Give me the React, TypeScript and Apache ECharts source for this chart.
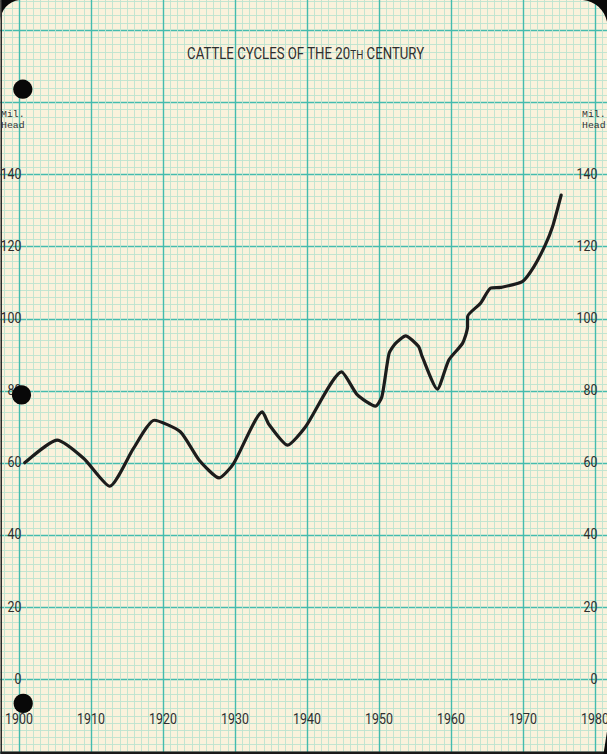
import React, { useEffect, useRef } from "react";
import * as echarts from "echarts";

// ---- data ----
const years = [
  1900.8, 1905.3, 1909.0, 1912.6, 1915.9, 1918.8, 1922.4, 1925.0, 1927.8, 1929.8,
  1933.8, 1934.7, 1937.3, 1939.8, 1944.8, 1947.0, 1949.5, 1950.4, 1951.4, 1952.3,
  1953.7, 1955.5, 1956.0, 1958.1, 1959.7, 1961.6, 1962.3, 1962.3, 1964.1, 1965.5,
  1966.9, 1969.9, 1971.5, 1973.1, 1974.1, 1975.3,
];
const cattle = [
  60.1, 66.4, 61.3, 53.6, 64.1, 71.9, 68.7, 60.9, 55.9, 59.9,
  74.2, 70.8, 65.0, 70.1, 85.3, 78.9, 75.8, 78.4, 90.4, 93.2,
  95.3, 92.3, 89.5, 80.5, 88.6, 93.2, 97.8, 100.6, 104.3, 108.5,
  108.7, 110.3, 114.4, 120.5, 125.5, 134.3,
];
const xTickLabels = [1900, 1910, 1920, 1930, 1940, 1950, 1960, 1970, 1980];
const yTickLabels = [0, 20, 40, 60, 80, 100, 120, 140];
const titleMain = "CATTLE CYCLES OF THE 20";
const titleSup = "TH";
const titleEnd = " CENTURY";
const unitLines = ["Mil.", "Head"];

// ---- styles / layout ----
const PAPER = "#faf2dc";
const MAJOR = "#44bcae";
const MINOR = "#bce3cf";
const INK = "#1c1c1c";
const LETTER = "#2e2e2e";
const LETTER_FONT = "Roboto";
const PAGE_W = 607;
const PAGE_H = 754;
// inner chart canvas is larger than the page so that the paper grid runs to every edge
const OFF_X = 53.5;
const OFF_Y = 41.9;
const INNER_W = 720;
const INNER_H = 865.7;

echarts.graphic.registerShape(
  "cornerTL",
  echarts.graphic.extendPath("M0 0 L21 0 C9.4 0 0 9.4 0 21 Z", {})
);
echarts.graphic.registerShape(
  "cornerTR",
  echarts.graphic.extendPath("M0 0 L27 0 L27 27 C27 12.1 14.9 0 0 0 Z", {})
);

export default function App() {
  const ref = useRef<HTMLDivElement>(null);

  useEffect(() => {
    document.body.style.margin = "0";
    const chart = echarts.init(ref.current!, null, { renderer: "svg" });

    const linePoints = years.map((y, i) => [y, cattle[i]]);

    const unitText = (t: string, x: number, y: number) => ({
      type: "text",
      x,
      y,
      z: 10,
      style: {
        text: t,
        fill: "#333",
        fontFamily: "Liberation Mono",
        fontSize: 9.8,
        textAlign: "left",
        align: "left",
        textVerticalAlign: "middle",
        verticalAlign: "middle",
      },
    });

    const option: any = {
      animation: false,
      backgroundColor: PAPER,
      grid: { left: 0, right: 0, top: 0, bottom: 0, containLabel: false },
      xAxis: {
        type: "value",
        min: 1890,
        max: 1990,
        interval: 10,
        axisLine: { show: false },
        axisTick: { show: false },
        axisLabel: { show: false },
        splitLine: { show: true, lineStyle: { color: MAJOR, width: 1.4 } },
        minorTick: { show: false, splitNumber: 10 },
        minorSplitLine: { show: true, lineStyle: { color: MINOR, width: 0.9 } },
      },
      yAxis: {
        type: "value",
        min: -40,
        max: 200,
        interval: 20,
        axisLine: { show: false },
        axisTick: { show: false },
        axisLabel: { show: false },
        splitLine: { show: true, lineStyle: { color: MAJOR, width: 1.4 } },
        minorTick: { show: false, splitNumber: 10 },
        minorSplitLine: { show: true, lineStyle: { color: MINOR, width: 0.9 } },
      },
      series: [
        {
          type: "line",
          data: linePoints,
          smooth: 0.2,
          symbol: "none",
          lineStyle: { color: INK, width: 3.2, cap: "round", join: "round" },
          z: 5,
        },
        {
          type: "custom",
          data: xTickLabels.map((v) => [v, 0]),
          z: 6,
          renderItem: (params: any, api: any) => {
            const p = api.coord([api.value(0), api.value(1)]);
            return {
              type: "text",
              x: p[0],
              y: p[1] + 39,
              scaleX: 0.8,
              style: {
                text: String(api.value(0)),
                fill: LETTER,
                fontFamily: LETTER_FONT,
                fontSize: 15.5,
                fontWeight: 400,
                textAlign: "center",
                align: "center",
                textVerticalAlign: "middle",
                verticalAlign: "middle",
              },
            };
          },
        },
        {
          type: "custom",
          data: yTickLabels
            .map((v) => [1900, v])
            .concat(yTickLabels.map((v) => [1980, v])),
          z: 6,
          renderItem: (params: any, api: any) => {
            const p = api.coord([api.value(0), api.value(1)]);
            return {
              type: "text",
              x: p[0] + 2.5,
              y: p[1] - 1.5,
              scaleX: 0.8,
              style: {
                text: String(api.value(1)),
                fill: LETTER,
                fontFamily: LETTER_FONT,
                fontSize: 15.5,
                fontWeight: 400,
                textAlign: "right",
                align: "right",
                textVerticalAlign: "middle",
                verticalAlign: "middle",
              },
            };
          },
        },
      ],
      graphic: [
        {
          type: "group",
          x: OFF_X,
          y: OFF_Y,
          z: 10,
          children: [
            {
              type: "text",
              x: 305,
              y: 53,
              scaleX: 0.8,
              z: 10,
              style: {
                text: `{a|${titleMain}}{s|${titleSup}}{a|${titleEnd}}`,
                textAlign: "center",
                align: "center",
                textVerticalAlign: "middle",
                verticalAlign: "middle",
                fill: LETTER,
                rich: {
                  a: { fontFamily: LETTER_FONT, fontSize: 16.5, fontWeight: 400, fill: LETTER, color: LETTER, lineHeight: 18, verticalAlign: "bottom" },
                  s: { fontFamily: LETTER_FONT, fontSize: 12.5, fontWeight: 400, fill: LETTER, color: LETTER, lineHeight: 18, verticalAlign: "bottom" },
                },
              },
            },
            ...unitLines.map((t, i) => unitText(t, 0.5, 114.5 + i * 11.5)),
            ...unitLines.map((t, i) => unitText(t, 581.5, 114.5 + i * 11.5)),
            { type: "circle", shape: { cx: 22.3, cy: 89.3, r: 9.6 }, style: { fill: "#080808" }, z: 20 },
            { type: "circle", shape: { cx: 21, cy: 395, r: 9.6 }, style: { fill: "#080808" }, z: 20 },
            { type: "circle", shape: { cx: 22.7, cy: 703.5, r: 9.6 }, style: { fill: "#080808" }, z: 20 },
            { type: "cornerTL", x: 0, y: 0, style: { fill: "#0a0a0a" }, z: 20 },
            { type: "cornerTR", x: 580, y: 0, style: { fill: "#0a0a0a" }, z: 20 },
            { type: "rect", shape: { x: 0, y: 0, width: 1.5, height: PAGE_H }, style: { fill: "#2a2a2a" }, z: 20 },
            { type: "rect", shape: { x: 0, y: 751.5, width: PAGE_W, height: 3 }, style: { fill: "#1a1a1a" }, z: 20 },
            { type: "polygon", shape: { points: [[607, 728], [603, 754], [607, 754]] }, style: { fill: "#0a0a0a" }, z: 20 },
          ],
        },
      ],
    };

    chart.setOption(option);
    return () => chart.dispose();
  }, []);

  return (
    <div
      style={{
        position: "absolute",
        left: 0,
        top: 0,
        width: PAGE_W,
        height: PAGE_H,
        overflow: "hidden",
        background: PAPER,
      }}
    >
      <div
        ref={ref}
        style={{ position: "absolute", left: -OFF_X, top: -OFF_Y, width: INNER_W, height: INNER_H }}
      />
    </div>
  );
}
